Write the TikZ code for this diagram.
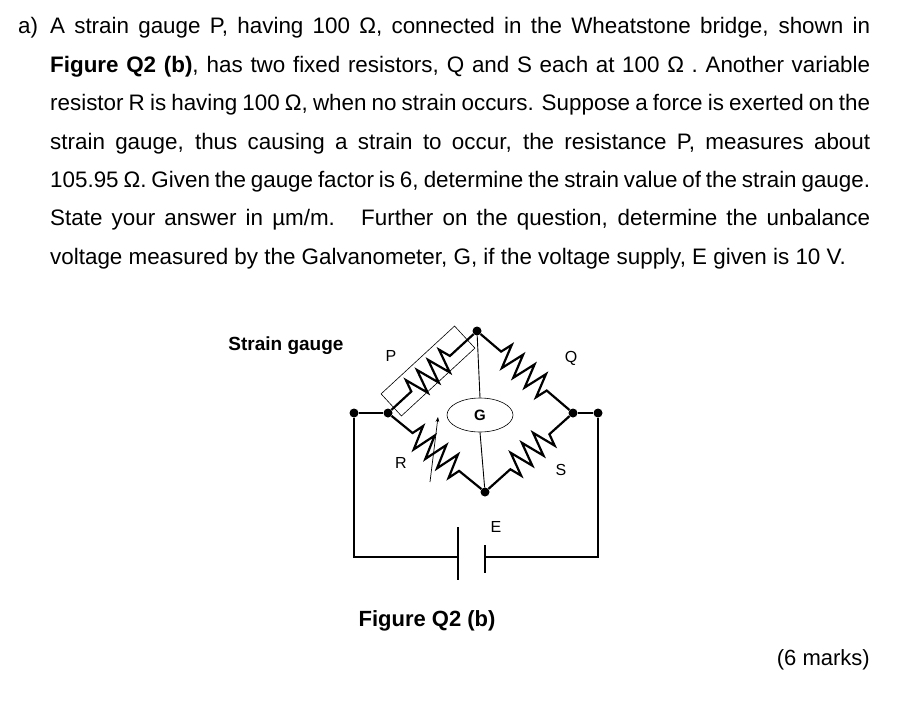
\documentclass[tikz,border=0pt]{standalone}
\usepackage{fontspec}
\setmainfont{Liberation Sans}
\usetikzlibrary{decorations.pathmorphing,arrows.meta,shapes.geometric}
\begin{document}
\begin{tikzpicture}[x=1pt,y=-1pt,
  txt/.style={anchor=base west,inner sep=0pt,font=\fontsize{22.4}{26}\selectfont},
  wire/.style={line width=2.4pt},
  res/.style={line width=2.2pt,decorate,decoration={zigzag,segment length=15pt,amplitude=12pt,pre length=27pt,post length=27pt}},
  dot/.style={circle,fill=black,inner sep=0pt,minimum size=9pt},
  lbl/.style={font=\fontsize{16}{18}\selectfont}]
\useasboundingbox (0,0) rectangle (910,704);
\node[txt] (l1) at (18,33) {a)\hspace{12pt}\makebox[820pt][s]{A strain gauge P, having 100 Ω, connected in the Wheatstone bridge, shown in}};
\node[txt] (l2) at (50,72) {\makebox[820pt][s]{\textbf{Figure Q2 (b)}, has two fixed resistors, Q and S each at 100 Ω . Another variable}};
\node[txt] (l3) at (50,110) {\makebox[820pt][s]{resistor R is having 100 Ω, when no strain occurs. Suppose a force is exerted on the}};
\node[txt] (l4) at (50,149) {\makebox[820pt][s]{strain gauge, thus causing a strain to occur, the resistance P, measures about}};
\node[txt] (l5) at (50,187) {\makebox[820pt][s]{105.95 Ω. Given the gauge factor is 6, determine the strain value of the strain gauge.}};
\node[txt] (l6) at (50,225) {\makebox[820pt][s]{State your answer in µm/m. \ Further on the question, determine the unbalance}};
\node[txt] (l7) at (50,264) {voltage measured by the Galvanometer, G, if the voltage supply, E given is 10 V.};

\node[dot] (T) at (477,331) {};
\node[dot] (L) at (388,413) {};
\node[dot] (LL) at (354,413) {};
\node[dot] (Rn) at (573,413) {};
\node[dot] (RR) at (598,413) {};
\node[dot] (B) at (485,492) {};
\node[draw,ellipse,minimum width=66pt,minimum height=34pt,inner sep=0pt,line width=0.6pt,font=\fontsize{15}{17}\selectfont\bfseries] (G) at (480,415) {G};
\coordinate (BL) at (354,557);
\coordinate (BR) at (598,557);
\coordinate (P1) at (458,557);
\coordinate (P2) at (485,557);

\draw[res] (L) -- (T);
\draw[res] (T) -- (Rn);
\draw[res] (L) -- (B);
\draw[res] (Rn) -- (B);
\draw[wire] (LL) -- (L);
\draw[wire] (Rn) -- (RR);
\draw[line width=0.9pt] (T) -- (G.north);
\draw[line width=0.9pt] (G.south) -- (B);
\draw[wire] (LL) -- (BL) -- (P1);
\draw[wire] (RR) -- (BR) -- (P2);
\draw[line width=2.2pt] (458,527) -- (458,580);
\draw[line width=2.2pt] (485,545) -- (485,573);
\draw[line width=0.7pt,-{Stealth[length=5pt]}] (430,482) -- (438,417);
\draw[line width=0.6pt,rotate around={42.7:(428,371)}] (378,356) rectangle (478,386);

\node[font=\fontsize{19}{21}\selectfont\bfseries] (sg) at (286,346) {Strain gauge};
\node[lbl] (pl) at (391,356) {P};
\node[lbl] (ql) at (571,358) {Q};
\node[lbl] (rl) at (401,463) {R};
\node[lbl] (sl) at (561,470) {S};
\node[lbl] (el) at (496,527) {E};
\node[font=\fontsize{22}{24}\selectfont\bfseries] (fig) at (427,621) {Figure Q2 (b)};
\node[anchor=east,inner sep=0pt,font=\fontsize{22}{24}\selectfont] (mk) at (870,660) {(6 marks)};
\end{tikzpicture}
\end{document}
